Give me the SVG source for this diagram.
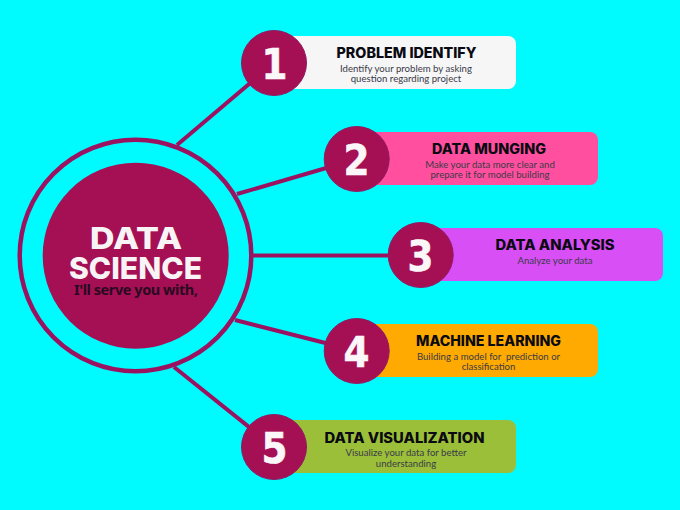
<svg xmlns="http://www.w3.org/2000/svg" width="680" height="510" viewBox="0 0 680 510">
<style>
.bg{fill:#00fbff}
.badge{fill:#a51055;stroke:#8f1a63;stroke-width:1}
.num{font-family:"DejaVu Sans","Liberation Sans",sans-serif;font-weight:700;font-size:43px;fill:#fbf7f9;text-anchor:middle;stroke:#fbf7f9;stroke-width:.6}
.head{font-family:"Inter","Liberation Sans",sans-serif;font-weight:800;font-size:14px;fill:#0a0a12;text-anchor:middle}
.sub{font-family:"Lato","Open Sans",sans-serif;font-weight:400;font-size:9.6px;fill:#3a3a48;text-anchor:middle}
.link{stroke:#9b1360;stroke-width:4;fill:none}
.title{font-family:"Inter","Liberation Sans",sans-serif;font-weight:800;font-size:30px;fill:#f8f4f6;text-anchor:middle}
.tag{font-family:"Noto Sans","Open Sans",sans-serif;font-weight:700;font-size:14.5px;fill:#2a0a20;text-anchor:middle}
</style>
<rect class="bg" width="680" height="510"/>
<g id="connectors">
<line class="link" x1="177" y1="145" x2="274" y2="63"/>
<line class="link" x1="237" y1="194" x2="357" y2="159"/>
<line class="link" x1="252" y1="255.500" x2="421" y2="255.500"/>
<line class="link" x1="235" y1="320" x2="357" y2="351"/>
<line class="link" x1="174" y1="367" x2="274" y2="447"/>
</g>
<g id="center">
<circle cx="135.500" cy="255.500" r="115.800" fill="none" stroke="#9b1360" stroke-width="4.500"/>
<circle cx="135.700" cy="255.700" r="93" fill="#a51055"/>
<text class="title" x="136" y="249" textLength="92" lengthAdjust="spacingAndGlyphs">DATA</text>
<text class="title" x="135.500" y="279" textLength="133" lengthAdjust="spacingAndGlyphs">SCIENCE</text>
<text class="tag" x="136" y="295" textLength="124">I'll serve you with,</text>
</g>
<g id="node1">
<rect x="274" y="36" width="242" height="53" rx="8" fill="#f6f6f6"/>
<circle class="badge" cx="274" cy="63" r="32.500"/>
<text class="num" x="274.500" y="79" textLength="26" lengthAdjust="spacingAndGlyphs">1</text>
<text class="head" x="406.500" y="57.500" textLength="140" lengthAdjust="spacingAndGlyphs">PROBLEM IDENTIFY</text>
<text class="sub" x="406" y="72">Identify your problem by asking</text>
<text class="sub" x="406" y="82">question regarding project</text>
</g>
<g id="node2">
<rect x="357" y="132" width="241" height="53" rx="8" fill="#ff4f9e"/>
<circle class="badge" cx="356.700" cy="159" r="32.500"/>
<text class="num" x="356.500" y="175" textLength="26" lengthAdjust="spacingAndGlyphs">2</text>
<text class="head" x="489" y="153.500" textLength="114" lengthAdjust="spacingAndGlyphs">DATA MUNGING</text>
<text class="sub" x="490" y="168">Make your data more clear and</text>
<text class="sub" x="490" y="178">prepare it for model building</text>
</g>
<g id="node3">
<rect x="421" y="228" width="242" height="53" rx="8" fill="#d84ff5"/>
<circle class="badge" cx="420.700" cy="255" r="32.500"/>
<text class="num" x="420.500" y="271" textLength="26" lengthAdjust="spacingAndGlyphs">3</text>
<text class="head" x="555" y="249.500" textLength="119" lengthAdjust="spacingAndGlyphs">DATA ANALYSIS</text>
<text class="sub" x="555" y="264">Analyze your data</text>
</g>
<g id="node4">
<rect x="357" y="324" width="241" height="53" rx="8" fill="#ffaa00"/>
<circle class="badge" cx="356.700" cy="351" r="32.500"/>
<text class="num" x="356.500" y="367" textLength="26" lengthAdjust="spacingAndGlyphs">4</text>
<text class="head" x="488.500" y="345.500" textLength="145" lengthAdjust="spacingAndGlyphs">MACHINE LEARNING</text>
<text class="sub" x="488.500" y="360" xml:space="preserve">Building a model for  prediction or</text>
<text class="sub" x="488.500" y="370">classification</text>
</g>
<g id="node5">
<rect x="274" y="420" width="242" height="53" rx="8" fill="#9cbf3a"/>
<circle class="badge" cx="274" cy="447" r="32.500"/>
<text class="num" x="274.500" y="463" textLength="26" lengthAdjust="spacingAndGlyphs">5</text>
<text class="head" x="404.500" y="442.500" textLength="160" lengthAdjust="spacingAndGlyphs">DATA VISUALIZATION</text>
<text class="sub" x="406" y="456">Visualize your data for better</text>
<text class="sub" x="406" y="467">understanding</text>
</g>
</svg>
